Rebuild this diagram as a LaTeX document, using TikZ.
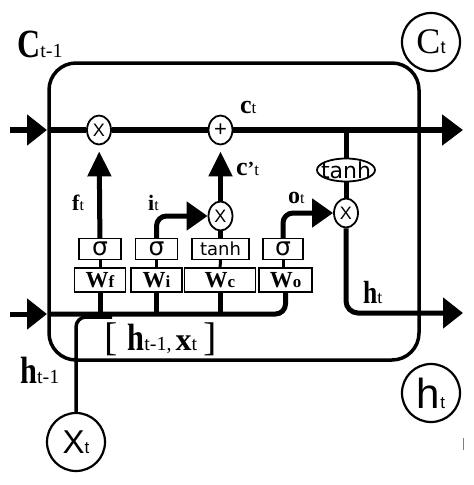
\documentclass[tikz,border=0pt]{standalone}
\usepackage{fontspec}
\setmainfont{Liberation Serif}
\newfontfamily\ssf{Liberation Sans}
\newfontfamily\dvs{DejaVu Sans}
\newfontfamily\nar[FakeStretch=0.8]{Liberation Serif}
\usetikzlibrary{arrows.meta,shapes.geometric}
\newcommand{\myfs}[1]{\fontsize{#1}{#1}\selectfont}
\begin{document}
\begin{tikzpicture}[x=1pt,y=-1pt,
  cellbox/.style={draw, line width=3.5pt, rounded corners=27pt, minimum width=370pt, minimum height=297pt, inner sep=0pt},
  cline/.style={line width=6pt},
  gln/.style={line width=5pt},
  thinln/.style={line width=3pt},
  op/.style={ellipse, draw, line width=1.8pt, minimum width=24pt, minimum height=29pt, inner sep=0pt, fill=white, font=\ssf\myfs{18}},
  gate/.style={draw, line width=1.4pt, minimum height=21pt, inner sep=0pt, fill=white},
  wgate/.style={gate, minimum height=24pt, font=\bfseries},
  ring/.style={circle, draw, line width=2.2pt, minimum size=58pt, inner sep=0pt},
  lab/.style={anchor=base west, inner sep=0pt},
  bigtip/.style={-{Triangle[length=20pt,width=30pt]}},
  uptip/.style={-{Triangle[length=25pt,width=23pt]}},
  sidetip/.style={-{Triangle[length=21pt,width=28pt]}}
]
\useasboundingbox (0,0) rectangle (474,485);

% cell frame
\node[cellbox] (cell) at (234,211.5) {};

% operators
\node[op] (fx) at (99,130) {X};
\node[op, font=\ssf\myfs{22}] (plus) at (220.5,130) {+};
\node[op] (xi) at (220.5,216) {X};
\node[op] (ox) at (346,213) {X};
\node[ellipse, draw, line width=1.8pt, minimum width=58pt, minimum height=23pt, inner sep=0pt, fill=white] (tanhE) at (346,170) {};
\node[font=\dvs\myfs{22}, inner sep=0pt] (tanhT) at (tanhE) {tanh};

% gates
\node[gate, minimum width=42pt, font=\dvs\myfs{25}] (sf) at (100,249) {σ};
\node[wgate, minimum width=51pt] (wf) at (100,280) {{\myfs{23}W}{\myfs{17}f}};
\node[gate, minimum width=42pt, font=\dvs\myfs{25}] (si) at (156.5,249) {σ};
\node[wgate, minimum width=51pt] (wi) at (156.5,280) {{\myfs{23}W}{\myfs{17}i}};
\node[gate, minimum width=57pt, font=\dvs\myfs{18}] (tc) at (220.5,249) {tanh};
\node[wgate, minimum width=71pt] (wc) at (220,280) {{\myfs{23}W}{\myfs{17}c}};
\node[gate, minimum width=40pt, font=\dvs\myfs{25}] (so) at (283,249) {σ};
\node[wgate, minimum width=53pt] (wo) at (285.5,280) {{\myfs{23}W}{\myfs{17}o}};

% rings
\node[ring] (Ct) at (431,42) {{\myfs{36}C}{\ssf\myfs{18}t}};
\node[ring] (ht) at (431,393) {{\ssf\myfs{42}h}{\ssf\myfs{17}t}};
\node[ring] (xt) at (76,442) {{\ssf\myfs{33}X}{\ssf\myfs{17}t}};

% coordinates
\coordinate (cin) at (10,130);
\coordinate (cedge) at (47,130);
\coordinate (cbox) at (49,130);
\coordinate (cout) at (463,130);
\coordinate (ctap) at (346,130);
\coordinate (hin) at (10,314);
\coordinate (hedge) at (47,314);
\coordinate (hbox) at (49,314);
\coordinate (hout) at (463,313);
\coordinate (xjoin) at (112,317);

% cell state
\draw[cline, bigtip] (cin) -- (cedge);
\draw[cline] (cbox) -- (fx);
\draw[cline] (fx) -- (plus);
\draw[cline, -{Triangle[length=21pt,width=30pt]}] (plus) -- (cout);
\draw[gln] (ctap) -- (tanhE);
\draw[gln] (tanhE) -- (ox);
\draw[gln, bigtip, rounded corners=12pt] (ox) |- (hout);

% hidden input line
\draw[gln, bigtip] (hin) -- (hedge);
\draw[gln, rounded corners=10pt] (hbox) -| (wo.south);
\draw[line width=3.5pt, rounded corners=10pt] (xt) |- (xjoin);

% taps
\draw[gln] (wf.south |- hbox) -- (wf.south);
\draw[gln] (wi.south |- hbox) -- (wi.south);
\draw[gln] (wc.south |- hbox) -- (wc.south);

% gate connectors
\draw[thinln] (wf) -- (sf);
\draw[thinln] (wi) -- (si);
\draw[thinln] (wc) -- (tc);
\draw[thinln] (so.south) -- (so.south |- wo.north);
\draw[gln, uptip, shorten >=6pt] (sf) -- (fx);
\draw[gln, sidetip, rounded corners=10pt] (si) |- (xi);
\draw[gln] (tc) -- (xi);
\draw[gln, uptip, shorten >=6pt] (xi) -- (plus);
\draw[gln, sidetip, rounded corners=10pt] (so) |- (ox);

% labels
\node[lab] (lct1) at (17,57) {{\nar\bfseries\myfs{40}C}{\myfs{20}t-1}};
\node[lab] (lc) at (240,113) {{\bfseries\myfs{26}c}{\myfs{17}t}};
\node[lab] (lcp) at (236,175) {{\bfseries\myfs{26}c}{\bfseries\myfs{20}’}{\myfs{17}t}};
\node[lab] (lf) at (72,210) {{\bfseries\myfs{22}f}{\myfs{16}t}};
\node[lab] (li) at (148,210) {{\bfseries\myfs{22}i}{\myfs{16}t}};
\node[lab] (lo) at (288,203) {{\bfseries\myfs{24}o}{\myfs{16}t}};
\node[lab] (lhtin) at (363,303) {{\nar\bfseries\myfs{32}h}{\myfs{18}t}};
\node[lab] (lbr) at (104,350) {{\myfs{40}[}\hspace{10pt}{\nar\bfseries\myfs{38}h}{\myfs{20}t-1,}\hspace{4pt}{\bfseries\myfs{32}x}{\myfs{20}t}\hspace{6pt}{\myfs{40}]}};
\node[lab] (lht1) at (20,383) {{\nar\bfseries\myfs{38}h}{\myfs{20}t-1}};

% small mark
\draw[gray, line width=0.8pt] (463,438) -- (463,450);
\end{tikzpicture}
\end{document}
